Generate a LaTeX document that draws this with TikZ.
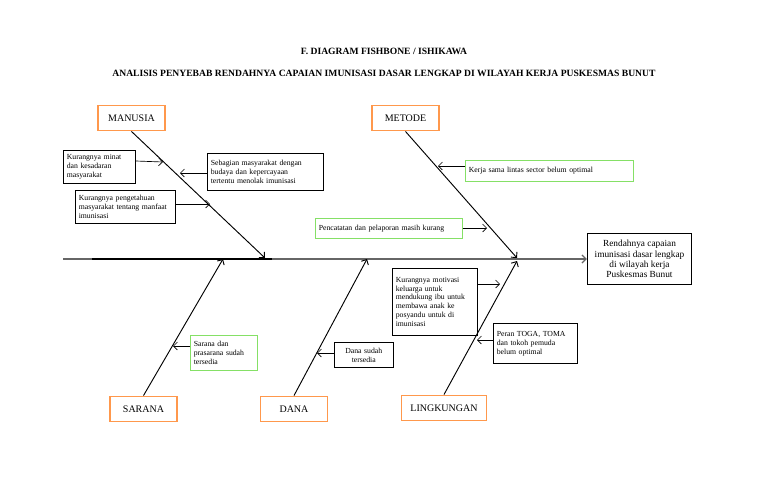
\documentclass[tikz,border=0pt]{standalone}
\usepackage{fontspec}
\setmainfont{Liberation Serif}
\usetikzlibrary{arrows.meta}
\begin{document}
\begin{tikzpicture}[x=0.75pt,y=-0.75pt,
 cat/.style={draw=orange!85!red!70,line width=1.2pt,minimum width=50pt,minimum height=19pt,font=\fontsize{7.5}{8}\selectfont,inner sep=2pt},
 bb/.style={draw=black,line width=0.7pt,font=\fontsize{5.8}{6.6}\selectfont,align=left,anchor=north west,inner sep=2.5pt},
 gb/.style={bb,draw=green!60!olive!60},
 ar/.style={-{Straight Barb[length=3pt,width=6pt]},line width=0.5pt},
 bone/.style={line width=0.7pt,-{Straight Barb[length=3pt,width=6pt]}}]
\useasboundingbox (0,0) rectangle (768,501);
\node[font=\bfseries\fontsize{7.2}{8}\selectfont] (t1) at (384,51) {F. DIAGRAM FISHBONE / ISHIKAWA};
\node[font=\bfseries\fontsize{7.2}{8}\selectfont] (t2) at (384,73) {ANALISIS PENYEBAB RENDAHNYA CAPAIAN IMUNISASI DASAR LENGKAP DI WILAYAH KERJA PUSKESMAS BUNUT};
% effect
\node[draw,line width=1pt,minimum width=78pt,minimum height=38pt,align=center,font=\fontsize{7}{7.8}\selectfont,inner sep=2pt] (eff) at (639.5,259) {Rendahnya capaian\\imunisasi dasar lengkap\\di wilayah kerja\\Puskesmas Bunut};
\coordinate (s0) at (63,259);
\draw[line width=0.9pt,gray!80!black,-{Straight Barb[length=3pt,width=6pt]}] (s0) -- (eff.west);
\draw[line width=1pt] (92,259) -- (272,259);
% categories
\node[cat] (man) at (131.5,118) {MANUSIA};
\node[cat] (met) at (405.5,118) {METODE};
\node[cat] (sar) at (143.5,409) {SARANA};
\node[cat] (dan) at (294,409) {DANA};
\node[cat,minimum width=64pt] (lin) at (444,408) {LINGKUNGAN};
\coordinate (cm) at (265,258);
\coordinate (ct) at (517,258);
\coordinate (cs) at (223,259);
\coordinate (cd) at (367,259);
\coordinate (cl) at (517,261);
\draw[bone] (man.south) -- (cm);
\draw[bone] (met.south) -- (ct);
\draw[bone] (sar.north) -- (cs);
\draw[bone] (dan.north) -- (cd);
\draw[bone] (lin.north) -- (cl);
% causes
\node[bb,text width=49pt,minimum height=24.5pt] (c1) at (63,150) {Kurangnya minat\\dan kesadaran\\masyarakat};
\draw[ar] (c1.east|-0,161) -- (163,162);
\node[bb,text width=82pt,minimum height=27.5pt] (c2) at (207,153) {Sebagian masyarakat dengan\\budaya dan kepercayaan\\tertentu menolak imunisasi};
\draw[ar] (c2.west|-0,173) -- (180,173);
\node[bb,text width=70pt,minimum height=24.5pt] (c3) at (75,190) {Kurangnya pengetahuan\\masyarakat tentang manfaat\\imunisasi};
\draw[ar] (c3.east|-0,204) -- (210,204);
\node[gb,text width=121pt,minimum height=15.5pt] (c4) at (465,160) {Kerja sama lintas sector belum optimal};
\draw[ar] (c4.west|-0,166) -- (438,166);
\node[gb,text width=105pt,minimum height=15pt] (c5) at (315,218) {Pencatatan dan pelaporan masih kurang};
\draw[ar] (c5.east|-0,228) -- (487,228);
\node[bb,text width=59pt,minimum height=50pt] (c6) at (392,268) {Kurangnya motivasi\\keluarga untuk\\mendukung ibu untuk\\membawa anak ke\\posyandu untuk di\\imunisasi};
\draw[ar] (c6.east|-0,284) -- (500,284);
\node[bb,text width=58pt,minimum height=30pt] (c7) at (493,323) {Peran TOGA, TOMA\\dan tokoh pemuda\\belum optimal};
\draw[ar] (c7.west|-0,340) -- (477,340);
\node[bb,text width=39pt,minimum height=19pt,align=center] (c8) at (334,342) {Dana sudah\\tersedia};
\draw[ar] (c8.west|-0,353) -- (317,353);
\node[gb,text width=45pt,minimum height=26pt] (c9) at (190,335) {Sarana dan\\prasarana sudah\\tersedia};
\draw[ar] (c9.west|-0,346) -- (173,346);
\end{tikzpicture}
\end{document}
